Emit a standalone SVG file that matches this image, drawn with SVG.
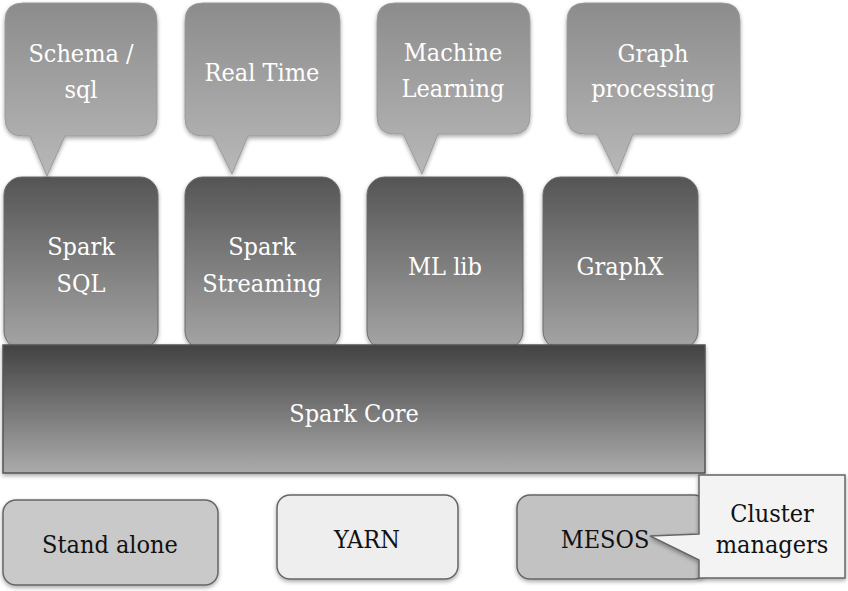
<svg xmlns="http://www.w3.org/2000/svg" width="848" height="591" viewBox="0 0 848 591">
<defs>
<linearGradient id="gBubble" x1="0" y1="0" x2="0" y2="1">
<stop offset="0" stop-color="#8c8c8c"/>
<stop offset="1" stop-color="#b8b8b8"/>
</linearGradient>
<linearGradient id="gDark" x1="0" y1="0" x2="0" y2="1">
<stop offset="0" stop-color="#555555"/>
<stop offset="1" stop-color="#a5a5a5"/>
</linearGradient>
<linearGradient id="gCore" x1="0" y1="0" x2="0" y2="1">
<stop offset="0" stop-color="#424242"/>
<stop offset="1" stop-color="#ababab"/>
</linearGradient>
<filter id="sh" x="-10%" y="-10%" width="120%" height="125%">
<feGaussianBlur in="SourceAlpha" stdDeviation="2"/>
<feOffset dx="0" dy="2" result="b"/>
<feComponentTransfer><feFuncA type="linear" slope="0.35"/></feComponentTransfer>
<feMerge><feMergeNode/><feMergeNode in="SourceGraphic"/></feMerge>
</filter>
</defs>
<style>
.bub{fill:url(#gBubble);stroke:#9a9a9a;stroke-width:1;filter:url(#sh)}
.dark{fill:url(#gDark);stroke:#6a6a6a;stroke-width:1;filter:url(#sh)}
.core{fill:url(#gCore);stroke:#555;stroke-width:1.5;filter:url(#sh)}
.cm{stroke:#666;stroke-width:1.5;filter:url(#sh)}
.wt{font-family:"DejaVu Serif Condensed","DejaVu Serif","Liberation Serif",serif;font-stretch:condensed;font-size:25px;fill:#ffffff;text-anchor:middle}
.bt{font-family:"DejaVu Serif Condensed","DejaVu Serif","Liberation Serif",serif;font-stretch:condensed;font-size:25px;fill:#111111;text-anchor:middle}
</style>
<rect width="848" height="591" fill="#ffffff"/>

<g id="spark-sql">
<rect class="dark" x="4" y="177" width="154" height="172" rx="18"/>
<text class="wt" x="81" y="255">Spark</text>
<text class="wt" x="81" y="292">SQL</text>
</g>
<g id="spark-streaming">
<rect class="dark" x="185" y="177" width="155" height="172" rx="18"/>
<text class="wt" x="262" y="255">Spark</text>
<text class="wt" x="262" y="292">Streaming</text>
</g>
<g id="ml-lib">
<rect class="dark" x="367" y="177" width="156" height="172" rx="18"/>
<text class="wt" x="445" y="275">ML lib</text>
</g>
<g id="graphx">
<rect class="dark" x="543" y="177" width="155" height="172" rx="18"/>
<text class="wt" x="620" y="275">GraphX</text>
</g>

<g id="schema-sql">
<path class="bub" d="M23,3 H139 Q157,3 157,21 V118 Q157,136 139,136 H65 L47,176 L30,136 H23 Q5,136 5,118 V21 Q5,3 23,3 Z"/>
<text class="wt" x="81" y="62">Schema /</text>
<text class="wt" x="81" y="98">sql</text>
</g>
<g id="real-time">
<path class="bub" d="M203,3 H322 Q340,3 340,21 V118 Q340,136 322,136 H248 L232,174 L213,136 H203 Q185,136 185,118 V21 Q185,3 203,3 Z"/>
<text class="wt" x="262" y="81">Real Time</text>
</g>
<g id="machine-learning">
<path class="bub" d="M395,3 H512 Q530,3 530,21 V116 Q530,134 512,134 H438 L422,174 L403,134 H395 Q377,134 377,116 V21 Q377,3 395,3 Z"/>
<text class="wt" x="453" y="61">Machine</text>
<text class="wt" x="453" y="97">Learning</text>
</g>
<g id="graph-processing">
<path class="bub" d="M585,3 H722 Q740,3 740,21 V116 Q740,134 722,134 H633 L617,174 L597,134 H585 Q567,134 567,116 V21 Q567,3 585,3 Z"/>
<text class="wt" x="653" y="62">Graph</text>
<text class="wt" x="653" y="97">processing</text>
</g>

<g id="spark-core">
<rect class="core" x="3" y="345" width="702" height="128"/>
<text class="wt" x="354" y="422">Spark Core</text>
</g>

<g id="stand-alone">
<rect class="cm" x="3" y="500" width="215" height="85" rx="13" fill="#c9c9c9"/>
<text class="bt" x="110" y="553">Stand alone</text>
</g>
<g id="yarn">
<rect class="cm" x="277" y="495" width="181" height="84" rx="13" fill="#eeeeee"/>
<text class="bt" x="367" y="548">YARN</text>
</g>
<g id="mesos">
<rect class="cm" x="517" y="495" width="190" height="84" rx="13" fill="#c2c2c2"/>
<text class="bt" x="605" y="548">MESOS</text>
</g>
<g id="cluster-managers">
<path class="cm" fill="#f3f3f3" d="M699,475 H845 V578 H699 V560 L650,536 L699,534 Z"/>
<text class="bt" x="772" y="522">Cluster</text>
<text class="bt" x="772" y="553">managers</text>
</g>
<g id="connectors"></g>
</svg>
